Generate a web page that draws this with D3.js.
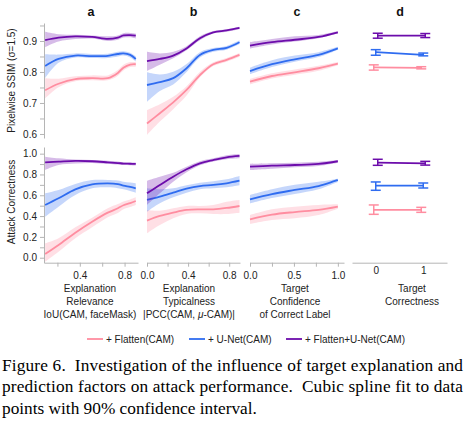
<!DOCTYPE html>
<html><head><meta charset="utf-8">
<script src="https://cdn.jsdelivr.net/npm/d3@7"></script>
<style>body{margin:0;background:#fff} svg{display:block}</style>
</head><body>
<svg id="chart" width="470" height="425"></svg>
<script>
// ---------- data ----------
const seriesNames = ["+ Flatten(CAM)", "+ U-Net(CAM)", "+ Flatten+U-Net(CAM)"];
const seriesColors = ["#ff8da0", "#2f6cf0", "#6c0cab"];
const panelTitles = ["a", "b", "c", "d"];
const panelXLabels = [
  ["Explanation", "Relevance", "IoU(CAM, faceMask)"],
  ["Explanation", "Typicalness", "|PCC(CAM, μ-CAM)|"],
  ["Target", "Confidence", "of Correct Label"],
  ["Target", "Correctness"]
];
const yLabelTop = "Pixelwise SSIM (σ=1.5)";
const yLabelBottom = "Attack Correctness";

// x grids (data units)
const xRelevance = [0.09, 0.21, 0.36, 0.51, 0.65, 0.74, 0.79, 0.85, 0.90];
const xTypicalness = [0.0, 0.125, 0.255, 0.385, 0.515, 0.645, 0.775, 0.9];
const xConfidence = [0.0, 0.25, 0.51, 0.78, 1.0];
const xCorrectness = [0, 1];

// rows: [fit, lower 90% CI, upper 90% CI]
// SSIM vs relevance
const ssimRelFlatten = [[0.741,0.715,0.780],[0.762,0.751,0.778],[0.777,0.770,0.786],[0.780,0.773,0.789],[0.780,0.773,0.789],[0.797,0.788,0.806],[0.814,0.805,0.823],[0.824,0.816,0.832],[0.825,0.817,0.832]];
const ssimRelUnet    = [[0.819,0.780,0.857],[0.842,0.830,0.856],[0.853,0.847,0.860],[0.851,0.845,0.858],[0.852,0.845,0.859],[0.858,0.850,0.865],[0.860,0.853,0.867],[0.855,0.847,0.862],[0.842,0.834,0.850]];
const ssimRelBoth    = [[0.903,0.880,0.930],[0.911,0.898,0.922],[0.915,0.906,0.920],[0.913,0.908,0.918],[0.907,0.900,0.915],[0.911,0.904,0.918],[0.918,0.911,0.925],[0.919,0.912,0.926],[0.917,0.908,0.924]];
// SSIM vs typicalness
const ssimTypFlatten = [[0.634,0.597,0.677],[0.667,0.640,0.696],[0.702,0.680,0.720],[0.742,0.724,0.754],[0.790,0.783,0.800],[0.825,0.819,0.831],[0.839,0.833,0.845],[0.855,0.849,0.861]];
const ssimTypUnet    = [[0.758,0.704,0.799],[0.767,0.739,0.792],[0.780,0.760,0.801],[0.812,0.800,0.826],[0.855,0.847,0.864],[0.871,0.865,0.877],[0.878,0.872,0.884],[0.896,0.890,0.902]];
const ssimTypBoth    = [[0.835,0.803,0.865],[0.842,0.823,0.860],[0.853,0.844,0.865],[0.876,0.870,0.883],[0.909,0.902,0.915],[0.928,0.924,0.932],[0.934,0.930,0.938],[0.942,0.938,0.946]];
// SSIM vs confidence
const ssimConfFlatten = [[0.769,0.760,0.778],[0.787,0.779,0.796],[0.799,0.791,0.808],[0.812,0.804,0.820],[0.827,0.822,0.832]];
const ssimConfUnet    = [[0.803,0.793,0.814],[0.825,0.816,0.838],[0.841,0.833,0.853],[0.855,0.848,0.864],[0.876,0.872,0.881]];
const ssimConfBoth    = [[0.885,0.876,0.896],[0.896,0.889,0.906],[0.904,0.898,0.915],[0.913,0.909,0.919],[0.928,0.924,0.932]];
// SSIM vs target correctness: [mean, lo, hi] at 0 and 1
const ssimCorrFlatten = [[0.815,0.806,0.823],[0.813,0.810,0.817]];
const ssimCorrUnet    = [[0.864,0.854,0.872],[0.855,0.852,0.861]];
const ssimCorrBoth    = [[0.917,0.909,0.925],[0.917,0.911,0.924]];

// Attack correctness vs relevance
const accRelFlatten = [[0.035,-0.038,0.138],[0.122,0.058,0.187],[0.240,0.187,0.292],[0.346,0.292,0.383],[0.433,0.388,0.475],[0.475,0.430,0.515],[0.504,0.466,0.540],[0.525,0.487,0.560],[0.545,0.506,0.580]];
const accRelUnet    = [[0.507,0.394,0.619],[0.571,0.490,0.651],[0.657,0.603,0.709],[0.705,0.667,0.747],[0.715,0.676,0.747],[0.708,0.668,0.742],[0.692,0.657,0.730],[0.680,0.642,0.722],[0.667,0.625,0.715]];
const accRelBoth    = [[0.917,0.843,0.971],[0.923,0.890,0.955],[0.930,0.905,0.944],[0.927,0.910,0.940],[0.917,0.900,0.932],[0.910,0.895,0.925],[0.905,0.890,0.918],[0.903,0.888,0.916],[0.901,0.885,0.915]];
// Attack correctness vs typicalness
const accTypFlatten = [[0.356,0.234,0.459],[0.401,0.314,0.452],[0.433,0.379,0.475],[0.459,0.420,0.497],[0.465,0.427,0.497],[0.465,0.420,0.507],[0.478,0.420,0.538],[0.497,0.433,0.555]];
const accTypUnet    = [[0.555,0.442,0.667],[0.587,0.523,0.658],[0.625,0.580,0.667],[0.664,0.625,0.696],[0.689,0.658,0.721],[0.699,0.667,0.735],[0.715,0.677,0.754],[0.740,0.696,0.786]];
const accTypBoth    = [[0.619,0.507,0.740],[0.699,0.619,0.779],[0.779,0.731,0.817],[0.850,0.821,0.875],[0.907,0.888,0.927],[0.939,0.925,0.955],[0.965,0.946,0.985],[0.978,0.955,0.997]];
// Attack correctness vs confidence
const accConfFlatten = [[0.369,0.324,0.410],[0.414,0.362,0.465],[0.439,0.379,0.490],[0.459,0.410,0.507],[0.491,0.471,0.513]];
const accConfUnet    = [[0.561,0.523,0.603],[0.612,0.574,0.658],[0.651,0.613,0.702],[0.689,0.658,0.731],[0.747,0.728,0.760]];
const accConfBoth    = [[0.875,0.843,0.901],[0.885,0.856,0.907],[0.891,0.869,0.913],[0.901,0.882,0.923],[0.927,0.913,0.939]];
// Attack correctness vs target correctness
const accCorrFlatten = [[0.459,0.417,0.507],[0.459,0.436,0.484]];
const accCorrUnet    = [[0.692,0.648,0.728],[0.692,0.670,0.718]];
const accCorrBoth    = [[0.914,0.888,0.946],[0.907,0.890,0.926]];

// tick values
const yTicksTop = [0.6, 0.65, 0.7, 0.75, 0.8, 0.85, 0.9, 0.95];
const yTicksBottom = [0, 0.1, 0.2, 0.3, 0.4, 0.5, 0.6, 0.7, 0.8, 0.9, 1.0];
const xTicksRel = [0.2, 0.4, 0.6, 0.8];
const xTicksTyp = [0, 0.2, 0.4, 0.6, 0.8];
const xTicksConf = [0, 0.25, 0.5, 0.75, 1.0];
const captionLines = [
  "Figure 6.\u00a0 Investigation of the influence of target explanation and",
  "prediction factors on attack performance.\u00a0 Cubic spline fit to data",
  "points with 90% confidence interval."
];

// ---------- drawing ----------
const svg = d3.select("#chart");
const SANS = "'Liberation Sans', Arial, Helvetica, sans-serif";
const AXIS_COLOR = "#b5b5b5";
const TEXT_COLOR = "#222";

const yTop = d3.scaleLinear().domain([0.587, 0.958]).range([138, 23]);
const yBot = d3.scaleLinear().domain([-0.048, 1.064]).range([262.7, 147]);
const xScales = [
  d3.scaleLinear().domain([0.08, 0.92]).range([44, 138]),
  d3.scaleLinear().domain([0, 0.905]).range([147, 240]),
  d3.scaleLinear().domain([0, 1.07]).range([250, 344]),
  d3.scaleLinear().domain([-0.5, 1.5]).range([352, 447])
];
const xGrids = [xRelevance, xTypicalness, xConfidence];
const topCurves = [
  [ssimRelFlatten, ssimRelUnet, ssimRelBoth],
  [ssimTypFlatten, ssimTypUnet, ssimTypBoth],
  [ssimConfFlatten, ssimConfUnet, ssimConfBoth]
];
const botCurves = [
  [accRelFlatten, accRelUnet, accRelBoth],
  [accTypFlatten, accTypUnet, accTypBoth],
  [accConfFlatten, accConfUnet, accConfBoth]
];
const topPoints = [ssimCorrFlatten, ssimCorrUnet, ssimCorrBoth];
const botPoints = [accCorrFlatten, accCorrUnet, accCorrBoth];

function styleAxis(g) {
  g.attr("font-family", SANS).attr("font-size", 10);
  g.selectAll(".domain").attr("stroke", AXIS_COLOR).attr("stroke-width", 1);
  g.selectAll(".tick line").attr("stroke", AXIS_COLOR).attr("stroke-width", 1);
  g.selectAll(".tick text").attr("fill", TEXT_COLOR);
}

function drawCurves(xs, xScale, yScale, curves) {
  const g = svg.append("g");
  curves.forEach((rows, i) => {
    const pts = xs.map((x, j) => ({ x, m: rows[j][0], lo: rows[j][1], hi: rows[j][2] }));
    g.append("path").datum(pts)
      .attr("d", d3.area().curve(d3.curveCatmullRom.alpha(0.5))
        .x(d => xScale(d.x)).y0(d => yScale(d.lo)).y1(d => yScale(d.hi)))
      .attr("fill", seriesColors[i]).attr("fill-opacity", 0.28).attr("stroke", "none");
    g.append("path").datum(pts)
      .attr("d", d3.line().curve(d3.curveCatmullRom.alpha(0.5))
        .x(d => xScale(d.x)).y(d => yScale(d.m)))
      .attr("fill", "none").attr("stroke", seriesColors[i]).attr("stroke-width", 1.8);
  });
}

function drawPoints(xScale, yScale, seriesRows) {
  const g = svg.append("g");
  const dodge = [-2, 0, 2];
  seriesRows.forEach((rows, i) => {
    const pts = xCorrectness.map((x, j) => ({ x, m: rows[j][0], lo: rows[j][1], hi: rows[j][2] }));
    const px = d => xScale(d.x) + dodge[i];
    const c = seriesColors[i];
    g.append("path").datum(pts)
      .attr("d", d3.line().x(px).y(d => yScale(d.m)))
      .attr("fill", "none").attr("stroke", c).attr("stroke-width", 1.8);
    pts.forEach(d => {
      const x = px(d);
      g.append("line").attr("x1", x).attr("x2", x).attr("y1", yScale(d.lo)).attr("y2", yScale(d.hi))
        .attr("stroke", c).attr("stroke-width", 1.5);
      [d.lo, d.hi].forEach(v => {
        g.append("line").attr("x1", x - 5).attr("x2", x + 5).attr("y1", yScale(v)).attr("y2", yScale(v))
          .attr("stroke", c).attr("stroke-width", 1.5);
      });
    });
  });
}

for (let p = 0; p < 3; p++) {
  drawCurves(xGrids[p], xScales[p], yTop, topCurves[p]);
  drawCurves(xGrids[p], xScales[p], yBot, botCurves[p]);
}
drawPoints(xScales[3], yTop, topPoints);
drawPoints(xScales[3], yBot, botPoints);

// y axes
const fmt1 = d3.format(".1f");
svg.append("g").attr("transform", "translate(44,0)")
  .call(d3.axisLeft(yTop).tickValues(yTicksTop).tickSize(4).tickSizeOuter(0).tickPadding(3)
    .tickFormat(d => Math.round(d * 100) % 10 === 0 ? fmt1(d) : ""))
  .call(styleAxis);
svg.append("g").attr("transform", "translate(44,0)")
  .call(d3.axisLeft(yBot).tickValues(yTicksBottom).tickSize(4).tickSizeOuter(0).tickPadding(3)
    .tickFormat(d => Math.round(d * 10) % 2 === 0 ? fmt1(d) : ""))
  .call(styleAxis);

// x axes (bottom row)
const xTickSets = [xTicksRel, xTicksTyp, xTicksConf];
const xLabelSets = [[0.4, 0.8], [0, 0.4, 0.8], [0, 0.5, 1.0]];
for (let p = 0; p < 3; p++) {
  svg.append("g").attr("transform", "translate(0,262.7)")
    .call(d3.axisBottom(xScales[p]).tickValues(xTickSets[p]).tickSize(4).tickSizeOuter(0).tickPadding(5)
      .tickFormat(d => xLabelSets[p].some(v => Math.abs(v - d) < 1e-9) ? fmt1(d) : ""))
    .call(styleAxis);
}
svg.append("g").attr("transform", "translate(0,262.7)")
  .call(d3.axisBottom(xScales[3]).tickValues(xCorrectness).tickSize(0).tickSizeOuter(0).tickPadding(4)
    .tickFormat(d3.format("d")))
  .call(styleAxis);

// panel titles
const titleX = [91, 193.5, 297, 400];
panelTitles.forEach((t, i) => {
  svg.append("text").attr("x", titleX[i]).attr("y", 16).attr("text-anchor", "middle")
    .attr("font-family", SANS).attr("font-size", 12.5).attr("font-weight", "bold").attr("fill", "#111").text(t);
});

// x axis labels
const xLabelCenters = [90, 189, 295, 412];
panelXLabels.forEach((lines, i) => {
  lines.forEach((s, k) => {
    const t = svg.append("text").attr("x", xLabelCenters[i]).attr("y", 291.6 + k * 13)
      .attr("text-anchor", "middle").attr("font-family", SANS).attr("font-size", 10).attr("fill", TEXT_COLOR);
    if (s.includes("μ")) {
      const parts = s.split("μ");
      t.append("tspan").text(parts[0]);
      t.append("tspan").attr("font-style", "italic").text("μ");
      t.append("tspan").text(parts[1]);
    } else t.text(s);
  });
});

// y axis labels
svg.append("text").attr("transform", "translate(15,80.5) rotate(-90)").attr("text-anchor", "middle")
  .attr("font-family", SANS).attr("font-size", 10).attr("fill", TEXT_COLOR).text(yLabelTop);
svg.append("text").attr("transform", "translate(15,202) rotate(-90)").attr("text-anchor", "middle")
  .attr("font-family", SANS).attr("font-size", 10).attr("fill", TEXT_COLOR).text(yLabelBottom);

// legend
const legendX = [87, 189, 286];
seriesNames.forEach((n, i) => {
  svg.append("line").attr("x1", legendX[i]).attr("x2", legendX[i] + 16).attr("y1", 339).attr("y2", 339)
    .attr("stroke", seriesColors[i]).attr("stroke-width", 1.8);
  svg.append("text").attr("x", legendX[i] + 19).attr("y", 342.5).attr("font-family", SANS)
    .attr("font-size", 10).attr("fill", TEXT_COLOR).text(n);
});

// caption
captionLines.forEach((s, k) => {
  const t = svg.append("text").attr("x", 2).attr("y", 370.7 + k * 21.7)
    .attr("font-family", "'Liberation Serif', 'Times New Roman', serif").attr("font-size", 17.3)
    .attr("fill", "#000").text(s);
  if (k < 2) t.attr("textLength", 461).attr("lengthAdjust", "spacing");
});
</script>
</body></html>
